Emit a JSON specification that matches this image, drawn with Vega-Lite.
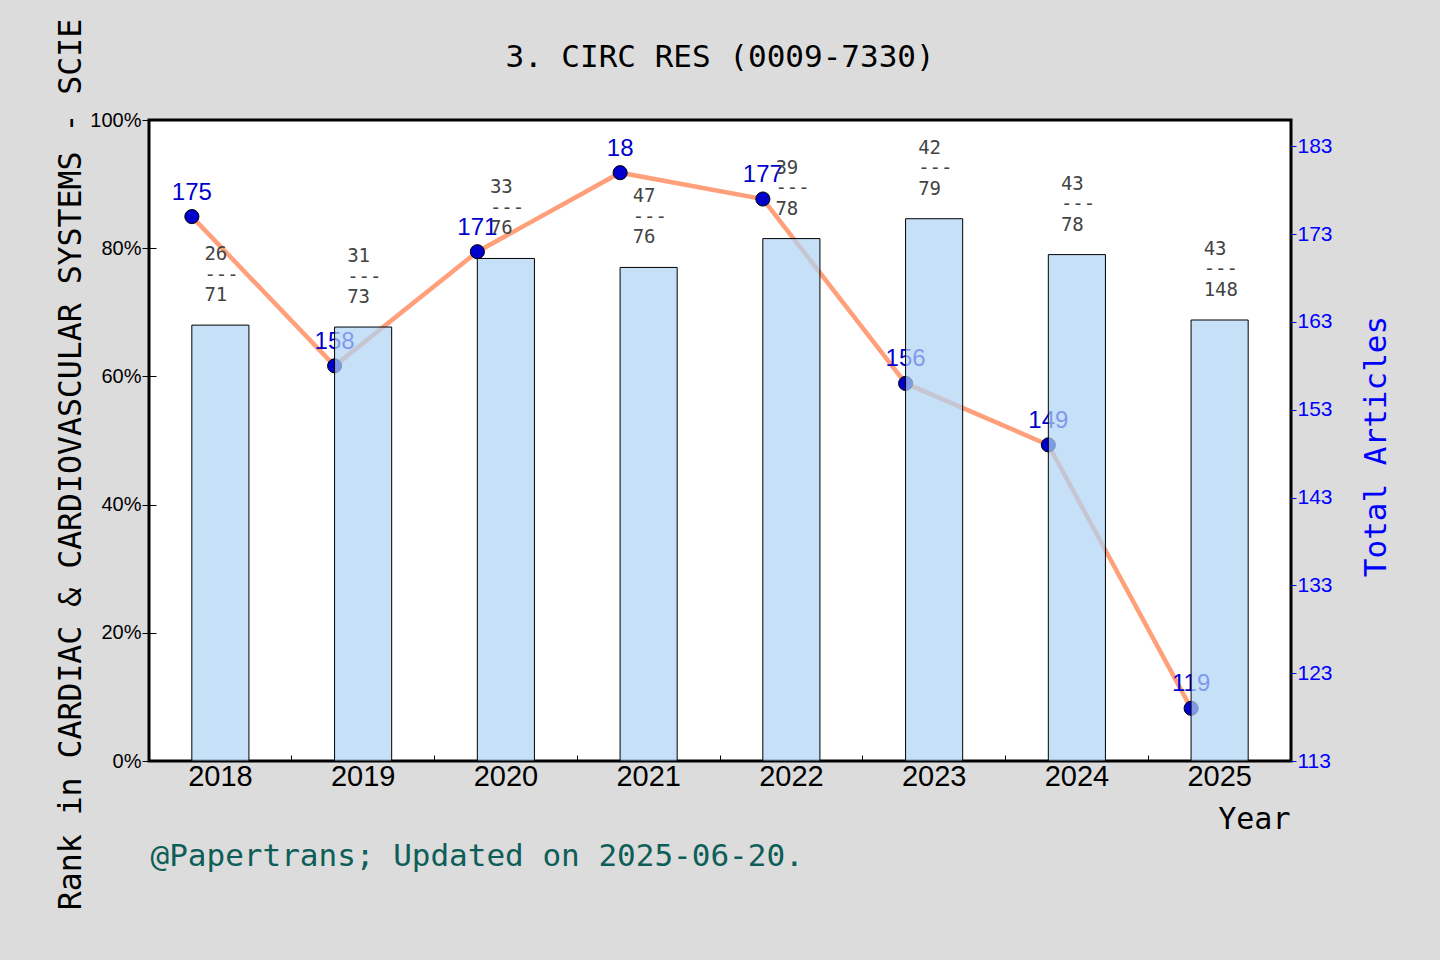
{
  "$schema": "https://vega.github.io/schema/vega-lite/v6.json",
  "width": 1142,
  "height": 641,
  "autosize": {"type": "none"},
  "padding": {"left": 149, "top": 120, "right": 149, "bottom": 199},
  "background": "#DCDCDC",
  "title": {
    "text": "3. CIRC RES (0009-7330)",
    "font": "DejaVu Sans Mono",
    "fontSize": 31,
    "fontWeight": "normal",
    "color": "black",
    "anchor": "middle",
    "frame": "group",
    "baseline": "alphabetic",
    "offset": 0,
    "dy": 80
  },
  "data": {
    "values": [
      {"year": 2018, "pct": 0.680, "rank_label": "26\n---\n71", "articles": 175, "label": "175"},
      {"year": 2019, "pct": 0.677, "rank_label": "31\n---\n73", "articles": 158, "label": "158"},
      {"year": 2020, "pct": 0.784, "rank_label": "33\n---\n76", "articles": 171, "label": "171"},
      {"year": 2021, "pct": 0.770, "rank_label": "47\n---\n76", "articles": 180, "label": "18"},
      {"year": 2022, "pct": 0.815, "rank_label": "39\n---\n78", "articles": 177, "label": "177"},
      {"year": 2023, "pct": 0.846, "rank_label": "42\n---\n79", "articles": 156, "label": "156"},
      {"year": 2024, "pct": 0.790, "rank_label": "43\n---\n78", "articles": 149, "label": "149"},
      {"year": 2025, "pct": 0.688, "rank_label": "43\n---\n148", "articles": 119, "label": "119"}
    ]
  },
  "config": {
    "view": {"fill": "white", "stroke": "black", "strokeWidth": 3},
    "axis": {"domain": false, "grid": false}
  },
  "layer": [
    {
      "layer": [
        {
          "mark": {"type": "line", "stroke": "#FFA07A", "strokeWidth": 4.5, "xOffset": -28.5},
          "encoding": {
            "x": {
              "field": "year", "type": "ordinal",
              "scale": {"type": "band", "paddingInner": 0, "paddingOuter": 0},
              "axis": {
                "orient": "top", "offset": -641, "labels": false, "ticks": true,
                "tickSize": 6, "tickColor": "black", "tickWidth": 1, "bandPosition": 0,
                "title": "@Papertrans; Updated on 2025-06-20.",
                "titleFont": "DejaVu Sans Mono", "titleFontSize": 31, "titleFontWeight": "normal",
                "titleColor": "#0E5E58", "titleX": 1, "titleY": 104,
                "titleAlign": "left", "titleBaseline": "alphabetic", "titleAngle": 0
              }
            },
            "y": {
              "field": "articles", "type": "quantitative",
              "scale": {"domain": [113, 186], "zero": false, "nice": false},
              "axis": {
                "orient": "right", "values": [113, 123, 133, 143, 153, 163, 173, 183],
                "tickSize": 5, "tickColor": "blue", "labelColor": "blue",
                "labelFont": "Liberation Sans", "labelFontSize": 21, "labelPadding": 1,
                "title": "Total Articles", "titleFont": "DejaVu Sans Mono", "titleFontSize": 31,
                "titleFontWeight": "normal", "titleColor": "blue", "titleAngle": 270,
                "titleX": 94, "titleY": 326, "titleAlign": "center", "titleBaseline": "alphabetic"
              }
            }
          }
        },
        {
          "mark": {"type": "point", "filled": true, "fill": "#0000CD", "stroke": "black", "strokeWidth": 1, "size": 200, "opacity": 1, "xOffset": -28.5},
          "encoding": {
            "x": {"field": "year", "type": "ordinal"},
            "y": {"field": "articles", "type": "quantitative"}
          }
        },
        {
          "mark": {"type": "text", "font": "Liberation Sans", "fontSize": 24, "fill": "#0000CD", "baseline": "alphabetic", "dy": -17, "xOffset": -28.5},
          "encoding": {
            "x": {"field": "year", "type": "ordinal"},
            "y": {"field": "articles", "type": "quantitative"},
            "text": {"field": "label"}
          }
        }
      ]
    },
    {
      "layer": [
        {
          "mark": {"type": "bar", "width": {"band": 0.4}, "fill": "#B0D4F5", "fillOpacity": 0.72, "stroke": "black", "strokeWidth": 1},
          "encoding": {
            "x": {
              "field": "year", "type": "ordinal",
              "scale": {"type": "band", "paddingInner": 0, "paddingOuter": 0},
              "axis": {
                "orient": "bottom", "ticks": false, "labelFont": "Liberation Sans", "labelFontSize": 29,
                "labelColor": "black", "labelPadding": 1, "labelAngle": 0,
                "title": "Year", "titleFont": "DejaVu Sans Mono", "titleFontSize": 30, "titleFontWeight": "normal",
                "titleColor": "black", "titleX": 1141, "titleY": 67, "titleAlign": "right", "titleBaseline": "alphabetic"
              }
            },
            "y": {
              "field": "pct", "type": "quantitative",
              "scale": {"domain": [0, 1], "nice": false},
              "axis": {
                "orient": "left", "values": [0, 0.2, 0.4, 0.6, 0.8, 1], "format": ".0%",
                "tickSize": 7, "tickColor": "black", "labelFont": "Liberation Sans", "labelFontSize": 20,
                "labelColor": "black", "labelPadding": 1,
                "title": "Rank in CARDIAC & CARDIOVASCULAR SYSTEMS - SCIE",
                "titleFont": "DejaVu Sans Mono", "titleFontSize": 31.5, "titleFontWeight": "normal",
                "titleColor": "black", "titleAngle": 270, "titleX": -69, "titleY": 344,
                "titleAlign": "center", "titleBaseline": "alphabetic"
              }
            }
          }
        },
        {
          "mark": {"type": "text", "font": "DejaVu Sans Mono", "fontSize": 19, "fill": "#444444", "align": "left", "baseline": "alphabetic", "dx": -16, "dy": -65, "lineBreak": "\n", "lineHeight": 20.5},
          "encoding": {
            "x": {"field": "year", "type": "ordinal"},
            "y": {
              "field": "pct", "type": "quantitative",
              "axis": {
                "orient": "right", "offset": -1142, "labels": false, "ticks": true, "tickSize": 7,
                "tickColor": "black", "values": [0, 0.2, 0.4, 0.6, 0.8, 1], "title": null
              }
            },
            "text": {"field": "rank_label"}
          }
        }
      ],
      "resolve": {"axis": {"y": "independent"}}
    }
  ],
  "resolve": {"scale": {"y": "independent"}, "axis": {"x": "independent", "y": "independent"}}
}
